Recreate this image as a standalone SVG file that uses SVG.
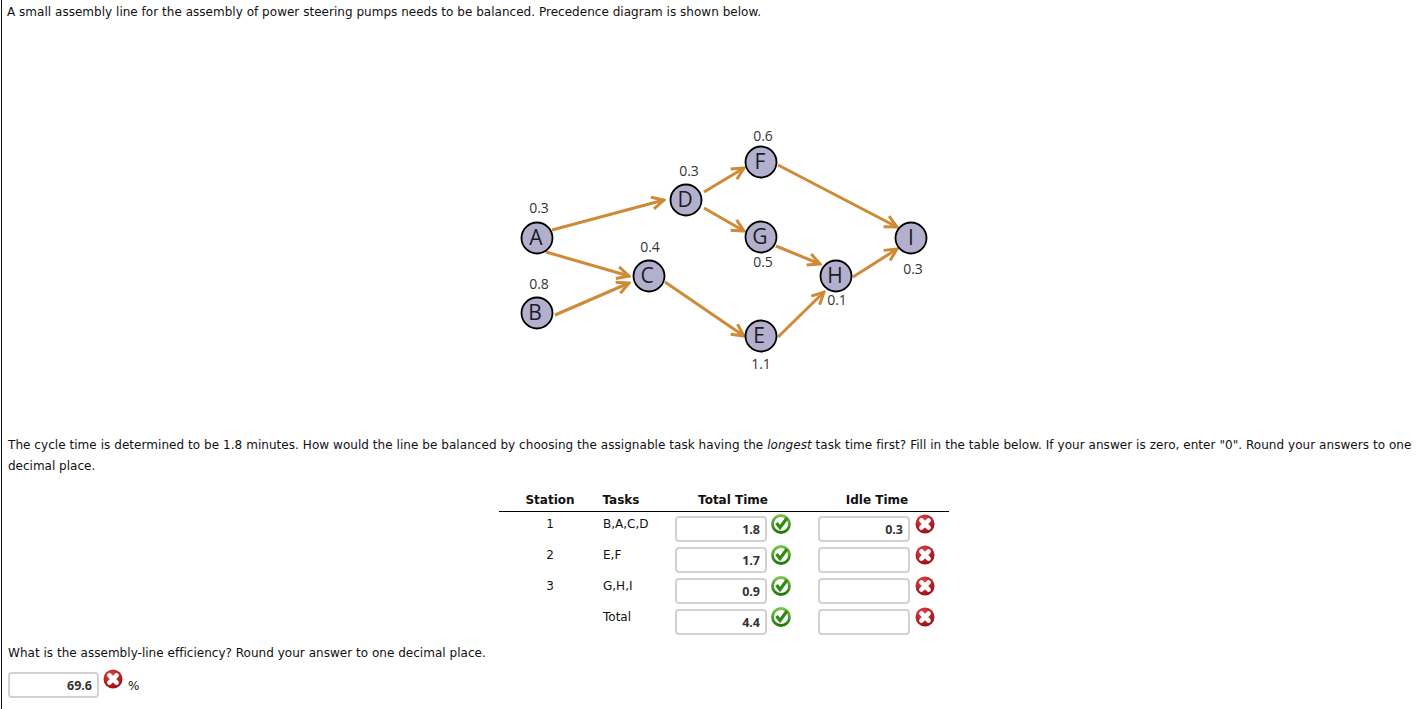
<svg xmlns="http://www.w3.org/2000/svg" width="1424" height="709" viewBox="0 0 1424 709">
<style>
text{font-family:"DejaVu Sans","Liberation Sans",sans-serif;font-size:12px;fill:#111}
.n circle{fill:#b2b0cc;stroke:#000;stroke-width:1.8}
.n text{font-family:"Open Sans","DejaVu Sans",sans-serif;font-size:21px;text-anchor:middle;fill:#1c1c28}
.w{font-family:"Open Sans","DejaVu Sans",sans-serif;font-size:14px;text-anchor:middle;fill:#333}
.c line{stroke:#cf8a38;stroke-width:3}
.h{font-weight:bold;text-anchor:middle}
.m{text-anchor:middle}
.b{fill:#fff;stroke:#d2d2d2;stroke-width:2}
.v{font-family:"Open Sans","DejaVu Sans",sans-serif;font-weight:bold;font-size:12.5px;text-anchor:end;fill:#333}
.ok{fill:#fff;stroke:url(#gg);stroke-width:2.8}
.tick{fill:none;stroke:#2f8a12;stroke-width:3.2}
.x{fill:url(#rg)}
.xm{stroke:#fff;stroke-width:4.6;stroke-linecap:round}
</style>
<defs>
<linearGradient id="gg" x1="0" y1="0" x2="0" y2="1"><stop offset="0" stop-color="#7cc04e"/><stop offset="1" stop-color="#1f7a0c"/></linearGradient>
<radialGradient id="rg" cx="0.4" cy="0.3" r="0.8"><stop offset="0" stop-color="#e2454a"/><stop offset="1" stop-color="#8f0a10"/></radialGradient>
<marker id="a" viewBox="-14 -8 16 16" markerWidth="16" markerHeight="16" markerUnits="userSpaceOnUse" refX="0" refY="0" orient="auto"><path d="M-12,-6 L0,0 L-12,6" fill="none" stroke="#cf8a38" stroke-width="3"/></marker>
<g id="ck"><circle class="ok" r="8.5"/><path class="tick" d="M-4.5,-1 L-1,3.5 L6,-6"/></g>
<g id="xx"><circle class="x" r="9.5"/><path class="xm" d="M-3.6,-3.6 L3.6,3.6 M3.6,-3.6 L-3.6,3.6"/></g>
</defs>
<line x1="1.5" y1="0" x2="1.5" y2="709" stroke="#111" stroke-width="1"/>
<text x="7" y="16" letter-spacing="0.025">A small assembly line for the assembly of power steering pumps needs to be balanced. Precedence diagram is shown below.</text>
<g class="c">
<line x1="552" y1="230" x2="664" y2="200" marker-end="url(#a)"/>
<line x1="546" y1="252" x2="629" y2="276" marker-end="url(#a)"/>
<line x1="555" y1="315" x2="629" y2="283" marker-end="url(#a)"/>
<line x1="704" y1="192" x2="744" y2="168" marker-end="url(#a)"/>
<line x1="704" y1="208" x2="744" y2="231" marker-end="url(#a)"/>
<line x1="665" y1="282" x2="744" y2="336" marker-end="url(#a)"/>
<line x1="778" y1="165" x2="897" y2="227" marker-end="url(#a)"/>
<line x1="776" y1="246" x2="820" y2="264" marker-end="url(#a)"/>
<line x1="778" y1="337" x2="824" y2="292" marker-end="url(#a)"/>
<line x1="853" y1="277" x2="897" y2="249" marker-end="url(#a)"/>
</g>
<g id="A" class="n"><circle cx="537" cy="238" r="15.5"/><text x="536" y="245">A</text></g>
<g id="B" class="n"><circle cx="537" cy="313" r="15.5"/><text x="535" y="320">B</text></g>
<g id="C" class="n"><circle cx="649" cy="276" r="15.5"/><text x="647" y="283">C</text></g>
<g id="D" class="n"><circle cx="686" cy="200" r="15.5"/><text x="685" y="207">D</text></g>
<g id="F" class="n"><circle cx="761" cy="162" r="15.5"/><text x="760" y="169">F</text></g>
<g id="G" class="n"><circle cx="761" cy="237" r="15.5"/><text x="760" y="244">G</text></g>
<g id="H" class="n"><circle cx="836" cy="276" r="15.5"/><text x="835" y="283">H</text></g>
<g id="I" class="n"><circle cx="911" cy="238" r="15.5"/><text x="911" y="245">I</text></g>
<g id="E" class="n"><circle cx="761" cy="336" r="15.5"/><text x="759" y="343">E</text></g>
<text class="w" x="539" y="213">0.3</text>
<text class="w" x="539" y="289">0.8</text>
<text class="w" x="650" y="252">0.4</text>
<text class="w" x="689" y="176">0.3</text>
<text class="w" x="763" y="141">0.6</text>
<text class="w" x="763" y="267">0.5</text>
<text class="w" x="837" y="305">0.1</text>
<text class="w" x="913" y="274">0.3</text>
<text class="w" x="761" y="369">1.1</text>
<text x="8" y="449" letter-spacing="0.052">The cycle time is determined to be 1.8 minutes. How would the line be balanced by choosing the assignable task having the <tspan font-style="italic">longest</tspan> task time first? Fill in the table below. If your answer is zero, enter "0". Round your answers to one</text>
<text x="8" y="470">decimal place.</text>
<text class="h" x="550" y="504">Station</text>
<text class="h" x="621" y="504">Tasks</text>
<text class="h" x="733" y="504">Total Time</text>
<text class="h" x="877" y="504">Idle Time</text>
<line x1="499" y1="511.5" x2="949" y2="511.5" stroke="#000" stroke-width="1"/>
<text class="m" x="550" y="528">1</text><text x="603" y="528">B,A,C,D</text>
<text class="m" x="550" y="559">2</text><text x="603" y="559">E,F</text>
<text class="m" x="550" y="590">3</text><text x="603" y="590">G,H,I</text>
<text x="603" y="621">Total</text>
<g id="inputs">
<rect class="b" x="676" y="517" width="90" height="24" rx="3"/><rect class="b" x="676" y="548" width="90" height="24" rx="3"/><rect class="b" x="676" y="579" width="90" height="24" rx="3"/><rect class="b" x="676" y="610" width="90" height="24" rx="3"/>
<rect class="b" x="819" y="517" width="90" height="24" rx="3"/><rect class="b" x="819" y="548" width="90" height="24" rx="3"/><rect class="b" x="819" y="579" width="90" height="24" rx="3"/><rect class="b" x="819" y="610" width="90" height="24" rx="3"/>
<rect class="b" x="9" y="673" width="89" height="24" rx="3"/>
</g>
<text class="v" x="760" y="534">1.8</text><text class="v" x="760" y="565">1.7</text><text class="v" x="760" y="596">0.9</text><text class="v" x="760" y="627">4.4</text>
<text class="v" x="903" y="534">0.3</text>
<text class="v" x="92" y="690">69.6</text>
<use href="#ck" x="781" y="524"/><use href="#ck" x="781" y="555"/><use href="#ck" x="781" y="586"/><use href="#ck" x="781" y="617"/>
<use href="#xx" x="925" y="524"/><use href="#xx" x="925" y="555"/><use href="#xx" x="925" y="586"/><use href="#xx" x="925" y="617"/>
<use href="#xx" x="113" y="679"/>
<text x="128" y="690">%</text>
<text x="8" y="657" letter-spacing="0.026">What is the assembly-line efficiency? Round your answer to one decimal place.</text>
</svg>
